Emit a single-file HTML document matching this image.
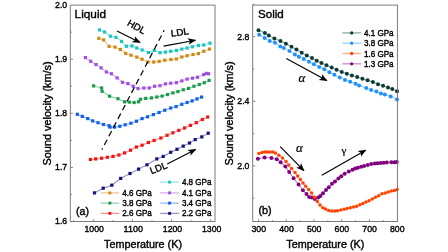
<!DOCTYPE html>
<html><head><meta charset="utf-8"><title>Sound velocity</title>
<style>
html,body{margin:0;padding:0;background:#fff;}
body{width:448px;height:252px;overflow:hidden;}
svg{display:block;}
svg text{font-family:"Liberation Sans",sans-serif;fill:#000;stroke:#000;stroke-width:0.38px;}
svg text.greek{font-family:"Liberation Serif",serif;stroke-width:0.22px;font-style:italic;}
svg text.up{font-style:normal;}
</style></head><body>
<svg width="448" height="252" viewBox="0 0 448 252">
<defs><marker id="ah" viewBox="0 0 10 10" refX="9" refY="5" markerWidth="8.3" markerHeight="8.3" markerUnits="userSpaceOnUse" orient="auto"><path d="M0,1 L10,5 L0,9 L2.5,5 Z" fill="#000"/></marker></defs>
<rect width="448" height="252" fill="#fff"/>
<g id="panelA">
<polyline fill="none" stroke="#1cc4c0" stroke-opacity="0.5" stroke-width="1.05" points="99.5,29.9 104.6,32 110.5,36.2 115.9,37.3 121.6,41.4 126.4,46.25 132,45.9 136.8,48 142.1,50 148.4,52.5 154.3,50.4 160,52.7 165.4,52.1 170.7,51.25 176.4,50.4 181.8,49.1 187.1,48 192.5,46.8 198.4,45.5 203.75,45 210,43.2"/>
<g fill="#1cc4c0"><rect x="97.9" y="28.3" width="3.2" height="3.2"/><rect x="103" y="30.4" width="3.2" height="3.2"/><rect x="108.9" y="34.6" width="3.2" height="3.2"/><rect x="114.3" y="35.7" width="3.2" height="3.2"/><rect x="120" y="39.8" width="3.2" height="3.2"/><rect x="124.8" y="44.65" width="3.2" height="3.2"/><rect x="130.4" y="44.3" width="3.2" height="3.2"/><rect x="135.2" y="46.4" width="3.2" height="3.2"/><rect x="140.5" y="48.4" width="3.2" height="3.2"/><rect x="146.8" y="50.9" width="3.2" height="3.2"/><rect x="152.7" y="48.8" width="3.2" height="3.2"/><rect x="158.4" y="51.1" width="3.2" height="3.2"/><rect x="163.8" y="50.5" width="3.2" height="3.2"/><rect x="169.1" y="49.65" width="3.2" height="3.2"/><rect x="174.8" y="48.8" width="3.2" height="3.2"/><rect x="180.2" y="47.5" width="3.2" height="3.2"/><rect x="185.5" y="46.4" width="3.2" height="3.2"/><rect x="190.9" y="45.2" width="3.2" height="3.2"/><rect x="196.8" y="43.9" width="3.2" height="3.2"/><rect x="202.15" y="43.4" width="3.2" height="3.2"/><rect x="208.4" y="41.6" width="3.2" height="3.2"/></g>
<polyline fill="none" stroke="#cc8a14" stroke-opacity="0.5" stroke-width="1.05" points="98.8,38.3 103.6,39.9 109.1,46.4 115,47.1 120.4,49.5 125.7,53.4 131,55.2 136.8,57.1 142.1,59.3 147.9,62 153.75,62 159.1,61.4 164.8,60.2 170.9,59.6 176.3,59 181.8,57 187.1,55.7 193,54.5 198.4,53.6 203.75,51.25 209.5,49.1"/>
<g fill="#cc8a14"><rect x="97.2" y="36.7" width="3.2" height="3.2"/><rect x="102" y="38.3" width="3.2" height="3.2"/><rect x="107.5" y="44.8" width="3.2" height="3.2"/><rect x="113.4" y="45.5" width="3.2" height="3.2"/><rect x="118.8" y="47.9" width="3.2" height="3.2"/><rect x="124.1" y="51.8" width="3.2" height="3.2"/><rect x="129.4" y="53.6" width="3.2" height="3.2"/><rect x="135.2" y="55.5" width="3.2" height="3.2"/><rect x="140.5" y="57.7" width="3.2" height="3.2"/><rect x="146.3" y="60.4" width="3.2" height="3.2"/><rect x="152.15" y="60.4" width="3.2" height="3.2"/><rect x="157.5" y="59.8" width="3.2" height="3.2"/><rect x="163.2" y="58.6" width="3.2" height="3.2"/><rect x="169.3" y="58" width="3.2" height="3.2"/><rect x="174.7" y="57.4" width="3.2" height="3.2"/><rect x="180.2" y="55.4" width="3.2" height="3.2"/><rect x="185.5" y="54.1" width="3.2" height="3.2"/><rect x="191.4" y="52.9" width="3.2" height="3.2"/><rect x="196.8" y="52" width="3.2" height="3.2"/><rect x="202.15" y="49.65" width="3.2" height="3.2"/><rect x="207.9" y="47.5" width="3.2" height="3.2"/></g>
<polyline fill="none" stroke="#a050e0" stroke-opacity="0.5" stroke-width="1.05" points="85.4,57.6 90.7,61.3 96,64.6 101.1,67.9 106.4,72 111.4,73.75 117.1,77.9 122.5,82.3 127.9,83.6 133.2,86.25 138,88.6 143.9,88 149.3,88 154.6,86.25 160,85.7 165.4,83.9 170.7,83.2 176.4,82.7 181.8,80.9 187.1,79.1 192.5,78.2 197.5,77.3 203.75,74.6 206.4,73.4 208.6,73.75"/>
<g fill="#a050e0"><rect x="83.8" y="56" width="3.2" height="3.2"/><rect x="89.1" y="59.7" width="3.2" height="3.2"/><rect x="94.4" y="63" width="3.2" height="3.2"/><rect x="99.5" y="66.3" width="3.2" height="3.2"/><rect x="104.8" y="70.4" width="3.2" height="3.2"/><rect x="109.8" y="72.15" width="3.2" height="3.2"/><rect x="115.5" y="76.3" width="3.2" height="3.2"/><rect x="120.9" y="80.7" width="3.2" height="3.2"/><rect x="126.3" y="82" width="3.2" height="3.2"/><rect x="131.6" y="84.65" width="3.2" height="3.2"/><rect x="136.4" y="87" width="3.2" height="3.2"/><rect x="142.3" y="86.4" width="3.2" height="3.2"/><rect x="147.7" y="86.4" width="3.2" height="3.2"/><rect x="153" y="84.65" width="3.2" height="3.2"/><rect x="158.4" y="84.1" width="3.2" height="3.2"/><rect x="163.8" y="82.3" width="3.2" height="3.2"/><rect x="169.1" y="81.6" width="3.2" height="3.2"/><rect x="174.8" y="81.1" width="3.2" height="3.2"/><rect x="180.2" y="79.3" width="3.2" height="3.2"/><rect x="185.5" y="77.5" width="3.2" height="3.2"/><rect x="190.9" y="76.6" width="3.2" height="3.2"/><rect x="195.9" y="75.7" width="3.2" height="3.2"/><rect x="202.15" y="73" width="3.2" height="3.2"/><rect x="204.8" y="71.8" width="3.2" height="3.2"/><rect x="207" y="72.15" width="3.2" height="3.2"/></g>
<polyline fill="none" stroke="#1a9c4c" stroke-opacity="0.5" stroke-width="1.05" points="93.6,85.9 101.6,88 102.1,91.25 109.6,96.2 118,98.7 124.6,101.8 129.3,102.1 134.1,102.5 138.6,101.8 140.4,99.3 145.7,98.4 151.4,97.9 156.8,97 162.1,96.1 167.5,94.6 172.9,92.9 177.9,91.6 183.2,89.8 188.6,88.4 193.9,86.25 199.3,84.5 204.3,82.7 209.1,80.4"/>
<g fill="#1a9c4c"><rect x="92" y="84.3" width="3.2" height="3.2"/><rect x="100" y="86.4" width="3.2" height="3.2"/><rect x="100.5" y="89.65" width="3.2" height="3.2"/><rect x="108" y="94.6" width="3.2" height="3.2"/><rect x="116.4" y="97.1" width="3.2" height="3.2"/><rect x="123" y="100.2" width="3.2" height="3.2"/><rect x="127.7" y="100.5" width="3.2" height="3.2"/><rect x="132.5" y="100.9" width="3.2" height="3.2"/><rect x="137" y="100.2" width="3.2" height="3.2"/><rect x="138.8" y="97.7" width="3.2" height="3.2"/><rect x="144.1" y="96.8" width="3.2" height="3.2"/><rect x="149.8" y="96.3" width="3.2" height="3.2"/><rect x="155.2" y="95.4" width="3.2" height="3.2"/><rect x="160.5" y="94.5" width="3.2" height="3.2"/><rect x="165.9" y="93" width="3.2" height="3.2"/><rect x="171.3" y="91.3" width="3.2" height="3.2"/><rect x="176.3" y="90" width="3.2" height="3.2"/><rect x="181.6" y="88.2" width="3.2" height="3.2"/><rect x="187" y="86.8" width="3.2" height="3.2"/><rect x="192.3" y="84.65" width="3.2" height="3.2"/><rect x="197.7" y="82.9" width="3.2" height="3.2"/><rect x="202.7" y="81.1" width="3.2" height="3.2"/><rect x="207.5" y="78.8" width="3.2" height="3.2"/></g>
<polyline fill="none" stroke="#1060e8" stroke-opacity="0.5" stroke-width="1.05" points="77.3,114.3 82.3,116.4 87.7,118.6 92.7,120.9 98,122.7 103.4,124.5 109.1,125.7 110,127.1 114.5,127.1 119.8,126.25 125.2,124.8 130.9,123.2 136.4,121.25 142.1,118.6 147.5,116.8 153.4,114.6 159.1,112.5 164.8,110.2 170.7,108 176.1,106.6 181.8,104.3 187.1,102.5 192.1,100.9 197,98.9 201.6,97.1"/>
<g fill="#1060e8"><rect x="75.7" y="112.7" width="3.2" height="3.2"/><rect x="80.7" y="114.8" width="3.2" height="3.2"/><rect x="86.1" y="117" width="3.2" height="3.2"/><rect x="91.1" y="119.3" width="3.2" height="3.2"/><rect x="96.4" y="121.1" width="3.2" height="3.2"/><rect x="101.8" y="122.9" width="3.2" height="3.2"/><rect x="107.5" y="124.1" width="3.2" height="3.2"/><rect x="108.4" y="125.5" width="3.2" height="3.2"/><rect x="112.9" y="125.5" width="3.2" height="3.2"/><rect x="118.2" y="124.65" width="3.2" height="3.2"/><rect x="123.6" y="123.2" width="3.2" height="3.2"/><rect x="129.3" y="121.6" width="3.2" height="3.2"/><rect x="134.8" y="119.65" width="3.2" height="3.2"/><rect x="140.5" y="117" width="3.2" height="3.2"/><rect x="145.9" y="115.2" width="3.2" height="3.2"/><rect x="151.8" y="113" width="3.2" height="3.2"/><rect x="157.5" y="110.9" width="3.2" height="3.2"/><rect x="163.2" y="108.6" width="3.2" height="3.2"/><rect x="169.1" y="106.4" width="3.2" height="3.2"/><rect x="174.5" y="105" width="3.2" height="3.2"/><rect x="180.2" y="102.7" width="3.2" height="3.2"/><rect x="185.5" y="100.9" width="3.2" height="3.2"/><rect x="190.5" y="99.3" width="3.2" height="3.2"/><rect x="195.4" y="97.3" width="3.2" height="3.2"/><rect x="200" y="95.5" width="3.2" height="3.2"/></g>
<polyline fill="none" stroke="#f01414" stroke-opacity="0.5" stroke-width="1.05" points="90.4,159.5 95.7,158.9 101.6,158.2 107.3,157.3 113,156.4 118.9,155 124.6,152.9 130.5,150.2 136.4,147 142.1,145.2 148.4,142.5 154.1,140.4 160.9,138 167.1,135.3 172.9,132.8 178.75,130.4 184.6,128 190.4,125.4 196.25,122.7 202.3,119.5 207.7,117"/>
<g fill="#f01414"><rect x="88.8" y="157.9" width="3.2" height="3.2"/><rect x="94.1" y="157.3" width="3.2" height="3.2"/><rect x="100" y="156.6" width="3.2" height="3.2"/><rect x="105.7" y="155.7" width="3.2" height="3.2"/><rect x="111.4" y="154.8" width="3.2" height="3.2"/><rect x="117.3" y="153.4" width="3.2" height="3.2"/><rect x="123" y="151.3" width="3.2" height="3.2"/><rect x="128.9" y="148.6" width="3.2" height="3.2"/><rect x="134.8" y="145.4" width="3.2" height="3.2"/><rect x="140.5" y="143.6" width="3.2" height="3.2"/><rect x="146.8" y="140.9" width="3.2" height="3.2"/><rect x="152.5" y="138.8" width="3.2" height="3.2"/><rect x="159.3" y="136.4" width="3.2" height="3.2"/><rect x="165.5" y="133.7" width="3.2" height="3.2"/><rect x="171.3" y="131.2" width="3.2" height="3.2"/><rect x="177.15" y="128.8" width="3.2" height="3.2"/><rect x="183" y="126.4" width="3.2" height="3.2"/><rect x="188.8" y="123.8" width="3.2" height="3.2"/><rect x="194.65" y="121.1" width="3.2" height="3.2"/><rect x="200.7" y="117.9" width="3.2" height="3.2"/><rect x="206.1" y="115.4" width="3.2" height="3.2"/></g>
<polyline fill="none" stroke="#14147c" stroke-opacity="0.5" stroke-width="1.05" points="94.5,192.9 103.2,188.2 111.8,185.2 120.7,178.4 130,173.5 138.6,169.1 147,164.8 156.8,158.9 163.2,156.4 170.7,152.3 177,149.3 183.2,146.1 189.5,143 195.2,139.6 201.8,136.9 208.2,133.2"/>
<g fill="#14147c"><rect x="92.9" y="191.3" width="3.2" height="3.2"/><rect x="101.6" y="186.6" width="3.2" height="3.2"/><rect x="110.2" y="183.6" width="3.2" height="3.2"/><rect x="119.1" y="176.8" width="3.2" height="3.2"/><rect x="128.4" y="171.9" width="3.2" height="3.2"/><rect x="137" y="167.5" width="3.2" height="3.2"/><rect x="145.4" y="163.2" width="3.2" height="3.2"/><rect x="155.2" y="157.3" width="3.2" height="3.2"/><rect x="161.6" y="154.8" width="3.2" height="3.2"/><rect x="169.1" y="150.7" width="3.2" height="3.2"/><rect x="175.4" y="147.7" width="3.2" height="3.2"/><rect x="181.6" y="144.5" width="3.2" height="3.2"/><rect x="187.9" y="141.4" width="3.2" height="3.2"/><rect x="193.6" y="138" width="3.2" height="3.2"/><rect x="200.2" y="135.3" width="3.2" height="3.2"/><rect x="206.6" y="131.6" width="3.2" height="3.2"/></g>
<line x1="164.2" y1="30.3" x2="101.9" y2="149.6" stroke="#000" stroke-width="1.2" stroke-dasharray="6,3.8" stroke-dashoffset="4"/>
<rect x="70.3" y="5.1" width="144.7" height="216.4" fill="none" stroke="#6e6e6e" stroke-width="0.9"/>
<path d="M93.25,221.5 v-2.3 M132.42,221.5 v-2.3 M171.59,221.5 v-2.3 M210.76,221.5 v-2.3 M73.66,221.5 v-1.3 M112.84,221.5 v-1.3 M152,221.5 v-1.3 M191.18,221.5 v-1.3 M70.3,167.4 h2.7 M70.3,113.3 h2.7 M70.3,59.2 h2.7 M70.3,194.45 h1.6 M70.3,140.35 h1.6 M70.3,86.25 h1.6 M70.3,32.15 h1.6" stroke="#6e6e6e" stroke-width="0.8" fill="none"/>
<text x="94.15" y="231.8" font-size="9.2" textLength="19.4" lengthAdjust="spacingAndGlyphs" text-anchor="middle">1000</text>
<text x="133.32" y="231.8" font-size="9.2" textLength="19.4" lengthAdjust="spacingAndGlyphs" text-anchor="middle">1100</text>
<text x="172.49" y="231.8" font-size="9.2" textLength="19.4" lengthAdjust="spacingAndGlyphs" text-anchor="middle">1200</text>
<text x="211.66" y="231.8" font-size="9.2" textLength="19.4" lengthAdjust="spacingAndGlyphs" text-anchor="middle">1300</text>
<text x="67.2" y="224.3" font-size="9.2" textLength="12.1" lengthAdjust="spacingAndGlyphs" text-anchor="end">1.6</text>
<text x="67.2" y="170.2" font-size="9.2" textLength="12.1" lengthAdjust="spacingAndGlyphs" text-anchor="end">1.7</text>
<text x="67.2" y="116.1" font-size="9.2" textLength="12.1" lengthAdjust="spacingAndGlyphs" text-anchor="end">1.8</text>
<text x="67.2" y="62" font-size="9.2" textLength="12.1" lengthAdjust="spacingAndGlyphs" text-anchor="end">1.9</text>
<text x="67.2" y="7.9" font-size="9.2" textLength="12.1" lengthAdjust="spacingAndGlyphs" text-anchor="end">2.0</text>
<text x="143" y="248.3" font-size="10.8" text-anchor="middle">Temperature (K)</text>
<text transform="translate(51.1,113.4) rotate(-90)" font-size="10.9" text-anchor="middle">Sound velocity (km/s)</text>
<text x="74.6" y="18.3" font-size="11.8">Liquid</text>
<text x="76" y="214.5" font-size="10.6">(a)</text>
<text transform="translate(126.4,24.9) rotate(29)" font-size="9.5" textLength="19.6" lengthAdjust="spacingAndGlyphs">HDL</text>
<line x1="117" y1="31" x2="140" y2="42.5" stroke="#000" stroke-width="1.15" marker-end="url(#ah)"/>
<text transform="translate(171.2,36.7) rotate(-7.5)" font-size="9.5" textLength="18.2" lengthAdjust="spacingAndGlyphs">LDL</text>
<line x1="163.6" y1="46.1" x2="195.4" y2="40.2" stroke="#000" stroke-width="1.15" marker-end="url(#ah)"/>
<text transform="translate(151.6,174.3) rotate(-22)" font-size="9.5" textLength="17.6" lengthAdjust="spacingAndGlyphs">LDL</text>
<line x1="167.2" y1="164.1" x2="195.6" y2="149.4" stroke="#000" stroke-width="1.15" marker-end="url(#ah)"/>
<line x1="100.6" y1="192.9" x2="119.2" y2="192.9" stroke="#cc8a14" stroke-opacity="0.45" stroke-width="1.3"/><rect x="108.45" y="191.45" width="2.9" height="2.9" fill="#cc8a14"/><text x="122.2" y="195.9" font-size="8.5" textLength="29.6" lengthAdjust="spacingAndGlyphs">4.6 GPa</text>
<line x1="100.6" y1="203.1" x2="119.2" y2="203.1" stroke="#1a9c4c" stroke-opacity="0.45" stroke-width="1.3"/><rect x="108.45" y="201.65" width="2.9" height="2.9" fill="#1a9c4c"/><text x="122.2" y="206.1" font-size="8.5" textLength="29.6" lengthAdjust="spacingAndGlyphs">3.8 GPa</text>
<line x1="100.6" y1="213.4" x2="119.2" y2="213.4" stroke="#f01414" stroke-opacity="0.45" stroke-width="1.3"/><rect x="108.45" y="211.95" width="2.9" height="2.9" fill="#f01414"/><text x="122.2" y="216.4" font-size="8.5" textLength="29.6" lengthAdjust="spacingAndGlyphs">2.6 GPa</text>
<line x1="160.3" y1="182.1" x2="178.9" y2="182.1" stroke="#1cc4c0" stroke-opacity="0.45" stroke-width="1.3"/><rect x="168.15" y="180.65" width="2.9" height="2.9" fill="#1cc4c0"/><text x="181.9" y="185.1" font-size="8.5" textLength="29.6" lengthAdjust="spacingAndGlyphs">4.8 GPa</text>
<line x1="160.3" y1="192.9" x2="178.9" y2="192.9" stroke="#a050e0" stroke-opacity="0.45" stroke-width="1.3"/><rect x="168.15" y="191.45" width="2.9" height="2.9" fill="#a050e0"/><text x="181.9" y="195.9" font-size="8.5" textLength="29.6" lengthAdjust="spacingAndGlyphs">4.1 GPa</text>
<line x1="160.3" y1="203.1" x2="178.9" y2="203.1" stroke="#1060e8" stroke-opacity="0.45" stroke-width="1.3"/><rect x="168.15" y="201.65" width="2.9" height="2.9" fill="#1060e8"/><text x="181.9" y="206.1" font-size="8.5" textLength="29.6" lengthAdjust="spacingAndGlyphs">3.4 GPa</text>
<line x1="160.3" y1="213.4" x2="178.9" y2="213.4" stroke="#14147c" stroke-opacity="0.45" stroke-width="1.3"/><rect x="168.15" y="211.95" width="2.9" height="2.9" fill="#14147c"/><text x="181.9" y="216.4" font-size="8.5" textLength="29.6" lengthAdjust="spacingAndGlyphs">2.2 GPa</text>
</g>
<g id="panelB">
<polyline fill="none" stroke="#0c3c38" stroke-opacity="0.5" stroke-width="1.05" points="258.5,30.2 264.9,33 268.8,35.4 274.4,38.4 280.5,41.1 285.9,43.8 291.5,46.8 296.5,49.6 301.7,52.7 306.8,55.4 312,58.1 316.7,60.7 321.5,62.9 326.5,65.3 331.7,67.4 336.6,69.7 341.8,71.9 346.8,73.7 351.9,75.4 357.2,77 362.4,78.7 367.6,80.2 372.9,82.1 378,84.3 383.1,85.8 388,87.4 392.3,89 397,91.3"/>
<g fill="#0c3c38"><circle cx="258.5" cy="30.2" r="1.98"/><circle cx="264.9" cy="33" r="1.98"/><circle cx="268.8" cy="35.4" r="1.98"/><circle cx="274.4" cy="38.4" r="1.98"/><circle cx="280.5" cy="41.1" r="1.98"/><circle cx="285.9" cy="43.8" r="1.98"/><circle cx="291.5" cy="46.8" r="1.98"/><circle cx="296.5" cy="49.6" r="1.98"/><circle cx="301.7" cy="52.7" r="1.98"/><circle cx="306.8" cy="55.4" r="1.98"/><circle cx="312" cy="58.1" r="1.98"/><circle cx="316.7" cy="60.7" r="1.98"/><circle cx="321.5" cy="62.9" r="1.98"/><circle cx="326.5" cy="65.3" r="1.98"/><circle cx="331.7" cy="67.4" r="1.98"/><circle cx="336.6" cy="69.7" r="1.98"/><circle cx="341.8" cy="71.9" r="1.98"/><circle cx="346.8" cy="73.7" r="1.98"/><circle cx="351.9" cy="75.4" r="1.98"/><circle cx="357.2" cy="77" r="1.98"/><circle cx="362.4" cy="78.7" r="1.98"/><circle cx="367.6" cy="80.2" r="1.98"/><circle cx="372.9" cy="82.1" r="1.98"/><circle cx="378" cy="84.3" r="1.98"/><circle cx="383.1" cy="85.8" r="1.98"/><circle cx="388" cy="87.4" r="1.98"/><circle cx="392.3" cy="89" r="1.98"/><circle cx="397" cy="91.3" r="1.98"/></g>
<polyline fill="none" stroke="#1e90ff" stroke-opacity="0.5" stroke-width="1.05" points="259.2,34.8 264.7,37.9 269.7,40.9 275,42.8 280.3,46.4 283.8,47.9 289.5,50.9 294.9,54.4 298.9,56.7 303.8,59.1 309,61.8 313.9,64.3 319.2,66.9 324.3,69.2 329.4,72.3 334.4,74.7 339.8,77.6 345,79.9 350.2,81.8 355.5,83.7 359.1,85.4 366.3,88 371.1,90 376.4,91.4 380.9,93.4 384.8,94.4 390.7,96.4 397,99.5"/>
<g fill="#1e90ff"><circle cx="259.2" cy="34.8" r="1.98"/><circle cx="264.7" cy="37.9" r="1.98"/><circle cx="269.7" cy="40.9" r="1.98"/><circle cx="275" cy="42.8" r="1.98"/><circle cx="280.3" cy="46.4" r="1.98"/><circle cx="283.8" cy="47.9" r="1.98"/><circle cx="289.5" cy="50.9" r="1.98"/><circle cx="294.9" cy="54.4" r="1.98"/><circle cx="298.9" cy="56.7" r="1.98"/><circle cx="303.8" cy="59.1" r="1.98"/><circle cx="309" cy="61.8" r="1.98"/><circle cx="313.9" cy="64.3" r="1.98"/><circle cx="319.2" cy="66.9" r="1.98"/><circle cx="324.3" cy="69.2" r="1.98"/><circle cx="329.4" cy="72.3" r="1.98"/><circle cx="334.4" cy="74.7" r="1.98"/><circle cx="339.8" cy="77.6" r="1.98"/><circle cx="345" cy="79.9" r="1.98"/><circle cx="350.2" cy="81.8" r="1.98"/><circle cx="355.5" cy="83.7" r="1.98"/><circle cx="359.1" cy="85.4" r="1.98"/><circle cx="366.3" cy="88" r="1.98"/><circle cx="371.1" cy="90" r="1.98"/><circle cx="376.4" cy="91.4" r="1.98"/><circle cx="380.9" cy="93.4" r="1.98"/><circle cx="384.8" cy="94.4" r="1.98"/><circle cx="390.7" cy="96.4" r="1.98"/><circle cx="397" cy="99.5" r="1.98"/></g>
<polyline fill="none" stroke="#800080" stroke-opacity="0.5" stroke-width="1.05" points="257.9,158.75 264.6,157.5 271.4,157.9 276.8,159.3 280.7,162.3 285.4,166.4 289.2,172.1 293.6,178.2 298.6,184.6 302.9,190.2 306.5,194.1 309.1,196.9 311.8,197.6 314.8,199.1 318.2,197.4 320.4,196 323,193.2 326,190 328.8,187.2 332,183.8 335,181.4 338.4,178.4 341.3,176.2 344.7,173.7 348.8,171.6 352.5,169.8 355.2,168.6 357.9,167.7 361.1,166.8 364.1,165.9 367.7,165 371.25,164.1 374.8,163.6 377.5,163.2 380.7,162.9 383.75,162.7 386.8,162.5 391.4,162.3 394.5,162.3 396.8,162.1"/>
<g fill="#800080"><circle cx="257.9" cy="158.75" r="1.98"/><circle cx="264.6" cy="157.5" r="1.98"/><circle cx="271.4" cy="157.9" r="1.98"/><circle cx="276.8" cy="159.3" r="1.98"/><circle cx="280.7" cy="162.3" r="1.98"/><circle cx="285.4" cy="166.4" r="1.98"/><circle cx="289.2" cy="172.1" r="1.98"/><circle cx="293.6" cy="178.2" r="1.98"/><circle cx="298.6" cy="184.6" r="1.98"/><circle cx="302.9" cy="190.2" r="1.98"/><circle cx="306.5" cy="194.1" r="1.98"/><circle cx="309.1" cy="196.9" r="1.98"/><circle cx="311.8" cy="197.6" r="1.98"/><circle cx="314.8" cy="199.1" r="1.98"/><circle cx="318.2" cy="197.4" r="1.98"/><circle cx="320.4" cy="196" r="1.98"/><circle cx="323" cy="193.2" r="1.98"/><circle cx="326" cy="190" r="1.98"/><circle cx="328.8" cy="187.2" r="1.98"/><circle cx="332" cy="183.8" r="1.98"/><circle cx="335" cy="181.4" r="1.98"/><circle cx="338.4" cy="178.4" r="1.98"/><circle cx="341.3" cy="176.2" r="1.98"/><circle cx="344.7" cy="173.7" r="1.98"/><circle cx="348.8" cy="171.6" r="1.98"/><circle cx="352.5" cy="169.8" r="1.98"/><circle cx="355.2" cy="168.6" r="1.98"/><circle cx="357.9" cy="167.7" r="1.98"/><circle cx="361.1" cy="166.8" r="1.98"/><circle cx="364.1" cy="165.9" r="1.98"/><circle cx="367.7" cy="165" r="1.98"/><circle cx="371.25" cy="164.1" r="1.98"/><circle cx="374.8" cy="163.6" r="1.98"/><circle cx="377.5" cy="163.2" r="1.98"/><circle cx="380.7" cy="162.9" r="1.98"/><circle cx="383.75" cy="162.7" r="1.98"/><circle cx="386.8" cy="162.5" r="1.98"/><circle cx="391.4" cy="162.3" r="1.98"/><circle cx="394.5" cy="162.3" r="1.98"/><circle cx="396.8" cy="162.1" r="1.98"/></g>
<polyline fill="none" stroke="#ff4500" stroke-opacity="0.5" stroke-width="1.05" points="258.9,153.4 262,152.5 264.6,152.1 267.3,152.1 270,152.1 272.7,152.1 275.4,152.9 278.9,155.2 282.5,157.9 286,161.4 288.75,165 291.6,168.6 295,172.5 297.7,176.1 300.4,179.6 303,182.9 305.7,186.3 308.6,189.6 311.6,193 314.5,197.3 317.3,201.5 320,205.1 322.8,207.8 325.5,209.1 328.6,210.4 331.8,210.9 334.8,210.9 337.5,210.7 340.8,209.9 344.1,209.2 347.2,208.5 350.4,207.7 353.6,207.1 356.6,206.2 359.8,204.8 362.9,203.4 366,202 369.1,200.7 372.3,198.9 375.4,197.3 378.6,195.7 382,193.75 385.2,192.9 388.2,192 391.4,191.1 394.5,190.5 397.1,189.6"/>
<g fill="#ff4500"><circle cx="258.9" cy="153.4" r="1.75"/><circle cx="262" cy="152.5" r="1.75"/><circle cx="264.6" cy="152.1" r="1.75"/><circle cx="267.3" cy="152.1" r="1.75"/><circle cx="270" cy="152.1" r="1.75"/><circle cx="272.7" cy="152.1" r="1.75"/><circle cx="275.4" cy="152.9" r="1.75"/><circle cx="278.9" cy="155.2" r="1.75"/><circle cx="282.5" cy="157.9" r="1.75"/><circle cx="286" cy="161.4" r="1.75"/><circle cx="288.75" cy="165" r="1.75"/><circle cx="291.6" cy="168.6" r="1.75"/><circle cx="295" cy="172.5" r="1.75"/><circle cx="297.7" cy="176.1" r="1.75"/><circle cx="300.4" cy="179.6" r="1.75"/><circle cx="303" cy="182.9" r="1.75"/><circle cx="305.7" cy="186.3" r="1.75"/><circle cx="308.6" cy="189.6" r="1.75"/><circle cx="311.6" cy="193" r="1.75"/><circle cx="314.5" cy="197.3" r="1.75"/><circle cx="317.3" cy="201.5" r="1.75"/><circle cx="320" cy="205.1" r="1.75"/><circle cx="322.8" cy="207.8" r="1.75"/><circle cx="325.5" cy="209.1" r="1.75"/><circle cx="328.6" cy="210.4" r="1.75"/><circle cx="331.8" cy="210.9" r="1.75"/><circle cx="334.8" cy="210.9" r="1.75"/><circle cx="337.5" cy="210.7" r="1.75"/><circle cx="340.8" cy="209.9" r="1.75"/><circle cx="344.1" cy="209.2" r="1.75"/><circle cx="347.2" cy="208.5" r="1.75"/><circle cx="350.4" cy="207.7" r="1.75"/><circle cx="353.6" cy="207.1" r="1.75"/><circle cx="356.6" cy="206.2" r="1.75"/><circle cx="359.8" cy="204.8" r="1.75"/><circle cx="362.9" cy="203.4" r="1.75"/><circle cx="366" cy="202" r="1.75"/><circle cx="369.1" cy="200.7" r="1.75"/><circle cx="372.3" cy="198.9" r="1.75"/><circle cx="375.4" cy="197.3" r="1.75"/><circle cx="378.6" cy="195.7" r="1.75"/><circle cx="382" cy="193.75" r="1.75"/><circle cx="385.2" cy="192.9" r="1.75"/><circle cx="388.2" cy="192" r="1.75"/><circle cx="391.4" cy="191.1" r="1.75"/><circle cx="394.5" cy="190.5" r="1.75"/><circle cx="397.1" cy="189.6" r="1.75"/></g>
<rect x="252.7" y="5.1" width="144.7" height="216.4" fill="none" stroke="#6e6e6e" stroke-width="0.9"/>
<path d="M258.6,221.5 v-2.3 M286.3,221.5 v-2.3 M314,221.5 v-2.3 M341.7,221.5 v-2.3 M369.4,221.5 v-2.3 M272.45,221.5 v-1.3 M300.15,221.5 v-1.3 M327.85,221.5 v-1.3 M355.55,221.5 v-1.3 M383.25,221.5 v-1.3 M252.7,165.88 h2.7 M252.7,101.24 h2.7 M252.7,36.6 h2.7 M252.7,198.2 h1.6 M252.7,133.56 h1.6 M252.7,68.92 h1.6 M252.7,4.28 h1.6" stroke="#6e6e6e" stroke-width="0.8" fill="none"/>
<text x="258.8" y="231.8" font-size="9.2" textLength="14.6" lengthAdjust="spacingAndGlyphs" text-anchor="middle">300</text>
<text x="286.5" y="231.8" font-size="9.2" textLength="14.6" lengthAdjust="spacingAndGlyphs" text-anchor="middle">400</text>
<text x="314.2" y="231.8" font-size="9.2" textLength="14.6" lengthAdjust="spacingAndGlyphs" text-anchor="middle">500</text>
<text x="341.9" y="231.8" font-size="9.2" textLength="14.6" lengthAdjust="spacingAndGlyphs" text-anchor="middle">600</text>
<text x="369.6" y="231.8" font-size="9.2" textLength="14.6" lengthAdjust="spacingAndGlyphs" text-anchor="middle">700</text>
<text x="397.3" y="231.8" font-size="9.2" textLength="14.6" lengthAdjust="spacingAndGlyphs" text-anchor="middle">800</text>
<text x="249.4" y="168.98" font-size="9.2" textLength="12.1" lengthAdjust="spacingAndGlyphs" text-anchor="end">2.0</text>
<text x="249.4" y="104.34" font-size="9.2" textLength="12.1" lengthAdjust="spacingAndGlyphs" text-anchor="end">2.4</text>
<text x="249.4" y="39.7" font-size="9.2" textLength="12.1" lengthAdjust="spacingAndGlyphs" text-anchor="end">2.8</text>
<text x="325.3" y="248.3" font-size="10.8" text-anchor="middle">Temperature (K)</text>
<text transform="translate(233.2,113.4) rotate(-90)" font-size="10.9" text-anchor="middle">Sound velocity (km/s)</text>
<text x="258" y="18.4" font-size="11.6">Solid</text>
<text x="258.4" y="214.4" font-size="10.8">(b)</text>
<line x1="286.3" y1="58.6" x2="326.8" y2="80.6" stroke="#000" stroke-width="1.15" marker-end="url(#ah)"/>
<text class="greek" x="301.8" y="81.7" font-size="13" text-anchor="middle">α</text>
<line x1="280.2" y1="146.6" x2="303.9" y2="170.7" stroke="#000" stroke-width="1.15" marker-end="url(#ah)"/>
<text class="greek" x="299.5" y="151.8" font-size="13" text-anchor="middle">α</text>
<line x1="321.8" y1="175.2" x2="365.7" y2="150.2" stroke="#000" stroke-width="1.15" marker-end="url(#ah)"/>
<text class="greek up" x="343.9" y="153.6" font-size="11" text-anchor="middle">γ</text>
<line x1="342.4" y1="32.9" x2="361" y2="32.9" stroke="#0c3c38" stroke-opacity="0.45" stroke-width="1.3"/><circle cx="351.7" cy="32.9" r="1.65" fill="#0c3c38"/><text x="364" y="35.9" font-size="8.5" textLength="29.6" lengthAdjust="spacingAndGlyphs">4.1 GPa</text>
<line x1="342.4" y1="43.2" x2="361" y2="43.2" stroke="#1e90ff" stroke-opacity="0.45" stroke-width="1.3"/><circle cx="351.7" cy="43.2" r="1.65" fill="#1e90ff"/><text x="364" y="46.2" font-size="8.5" textLength="29.6" lengthAdjust="spacingAndGlyphs">3.8 GPa</text>
<line x1="342.4" y1="53.5" x2="361" y2="53.5" stroke="#ff4500" stroke-opacity="0.45" stroke-width="1.3"/><circle cx="351.7" cy="53.5" r="1.65" fill="#ff4500"/><text x="364" y="56.5" font-size="8.5" textLength="29.6" lengthAdjust="spacingAndGlyphs">1.6 GPa</text>
<line x1="342.4" y1="63.8" x2="361" y2="63.8" stroke="#800080" stroke-opacity="0.45" stroke-width="1.3"/><circle cx="351.7" cy="63.8" r="1.65" fill="#800080"/><text x="364" y="66.8" font-size="8.5" textLength="29.6" lengthAdjust="spacingAndGlyphs">1.3 GPa</text>
</g>
</svg>
</body></html>
